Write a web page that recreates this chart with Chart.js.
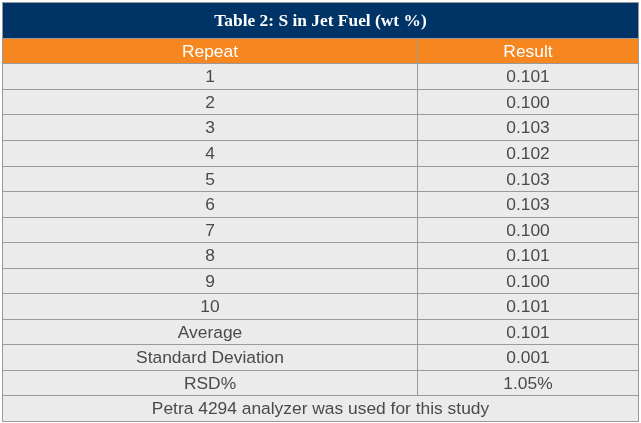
<!DOCTYPE html>
<html><head><meta charset="utf-8">
<script src="https://cdn.jsdelivr.net/npm/chart.js@4"></script>
<style>html,body{margin:0;padding:0;background:#fff}</style>
</head><body>
<canvas id="c" width="641" height="423"></canvas>
<script>
const title = "Table 2: S in Jet Fuel (wt %)";
const headers = ["Repeat", "Result"];
const repeats = ["1","2","3","4","5","6","7","8","9","10","Average","Standard Deviation","RSD%"];
const results = ["0.101","0.100","0.103","0.102","0.103","0.103","0.100","0.101","0.100","0.101","0.101","0.001","1.05%"];
const footnote = "Petra 4294 analyzer was used for this study";

const TITLE_H = 1.4, SPLIT = 0.6525;
const totalRows = TITLE_H + 1 + repeats.length + 1;

const tablePlugin = {
  id: 'table',
  afterDraw(chart) {
    const ctx = chart.ctx, xs = chart.scales.x, ys = chart.scales.y;
    const X = v => xs.getPixelForValue(v), Y = v => ys.getPixelForValue(v);
    function cell(x0, x1, y0, y1, fill, text, font, color) {
      const px0 = Math.round(X(x0)) + 0.5, px1 = Math.round(X(x1)) + 0.5;
      const py0 = Math.round(Y(y0)) + 0.5, py1 = Math.round(Y(y1)) + 0.5;
      ctx.fillStyle = fill; ctx.fillRect(px0, py0, px1 - px0, py1 - py0);
      ctx.strokeStyle = '#9a9a9a'; ctx.lineWidth = 1; ctx.strokeRect(px0, py0, px1 - px0, py1 - py0);
      ctx.fillStyle = color; ctx.font = font; ctx.textAlign = 'center'; ctx.textBaseline = 'middle';
      ctx.fillText(text, (px0 + px1) / 2, (py0 + py1) / 2 + 1);
    }
    const body = '17.4px "Liberation Sans", Arial, sans-serif';
    cell(0, 1, 0, TITLE_H, '#003366', title, 'bold 17.4px "Liberation Serif", "Times New Roman", serif', '#fff');
    let y = TITLE_H;
    cell(0, SPLIT, y, y + 1, '#f6861f', headers[0], body, '#fff');
    cell(SPLIT, 1, y, y + 1, '#f6861f', headers[1], body, '#fff');
    y += 1;
    repeats.forEach((r, i) => {
      cell(0, SPLIT, y, y + 1, '#ebebeb', r, body, '#4a4a4a');
      cell(SPLIT, 1, y, y + 1, '#ebebeb', results[i], body, '#4a4a4a');
      y += 1;
    });
    cell(0, 1, y, y + 1, '#ebebeb', footnote, body, '#4a4a4a');
  }
};

new Chart(document.getElementById('c'), {
  type: 'scatter',
  data: { datasets: [{ data: [] }] },
  options: {
    responsive: false, animation: false,
    layout: { padding: { left: 2, right: 3, top: 2, bottom: 2 } },
    plugins: { legend: { display: false }, tooltip: { enabled: false } },
    scales: {
      x: { type: 'linear', min: 0, max: 1, display: false },
      y: { type: 'linear', min: 0, max: totalRows, reverse: true, display: false }
    }
  },
  plugins: [tablePlugin]
});
</script>
</body></html>
